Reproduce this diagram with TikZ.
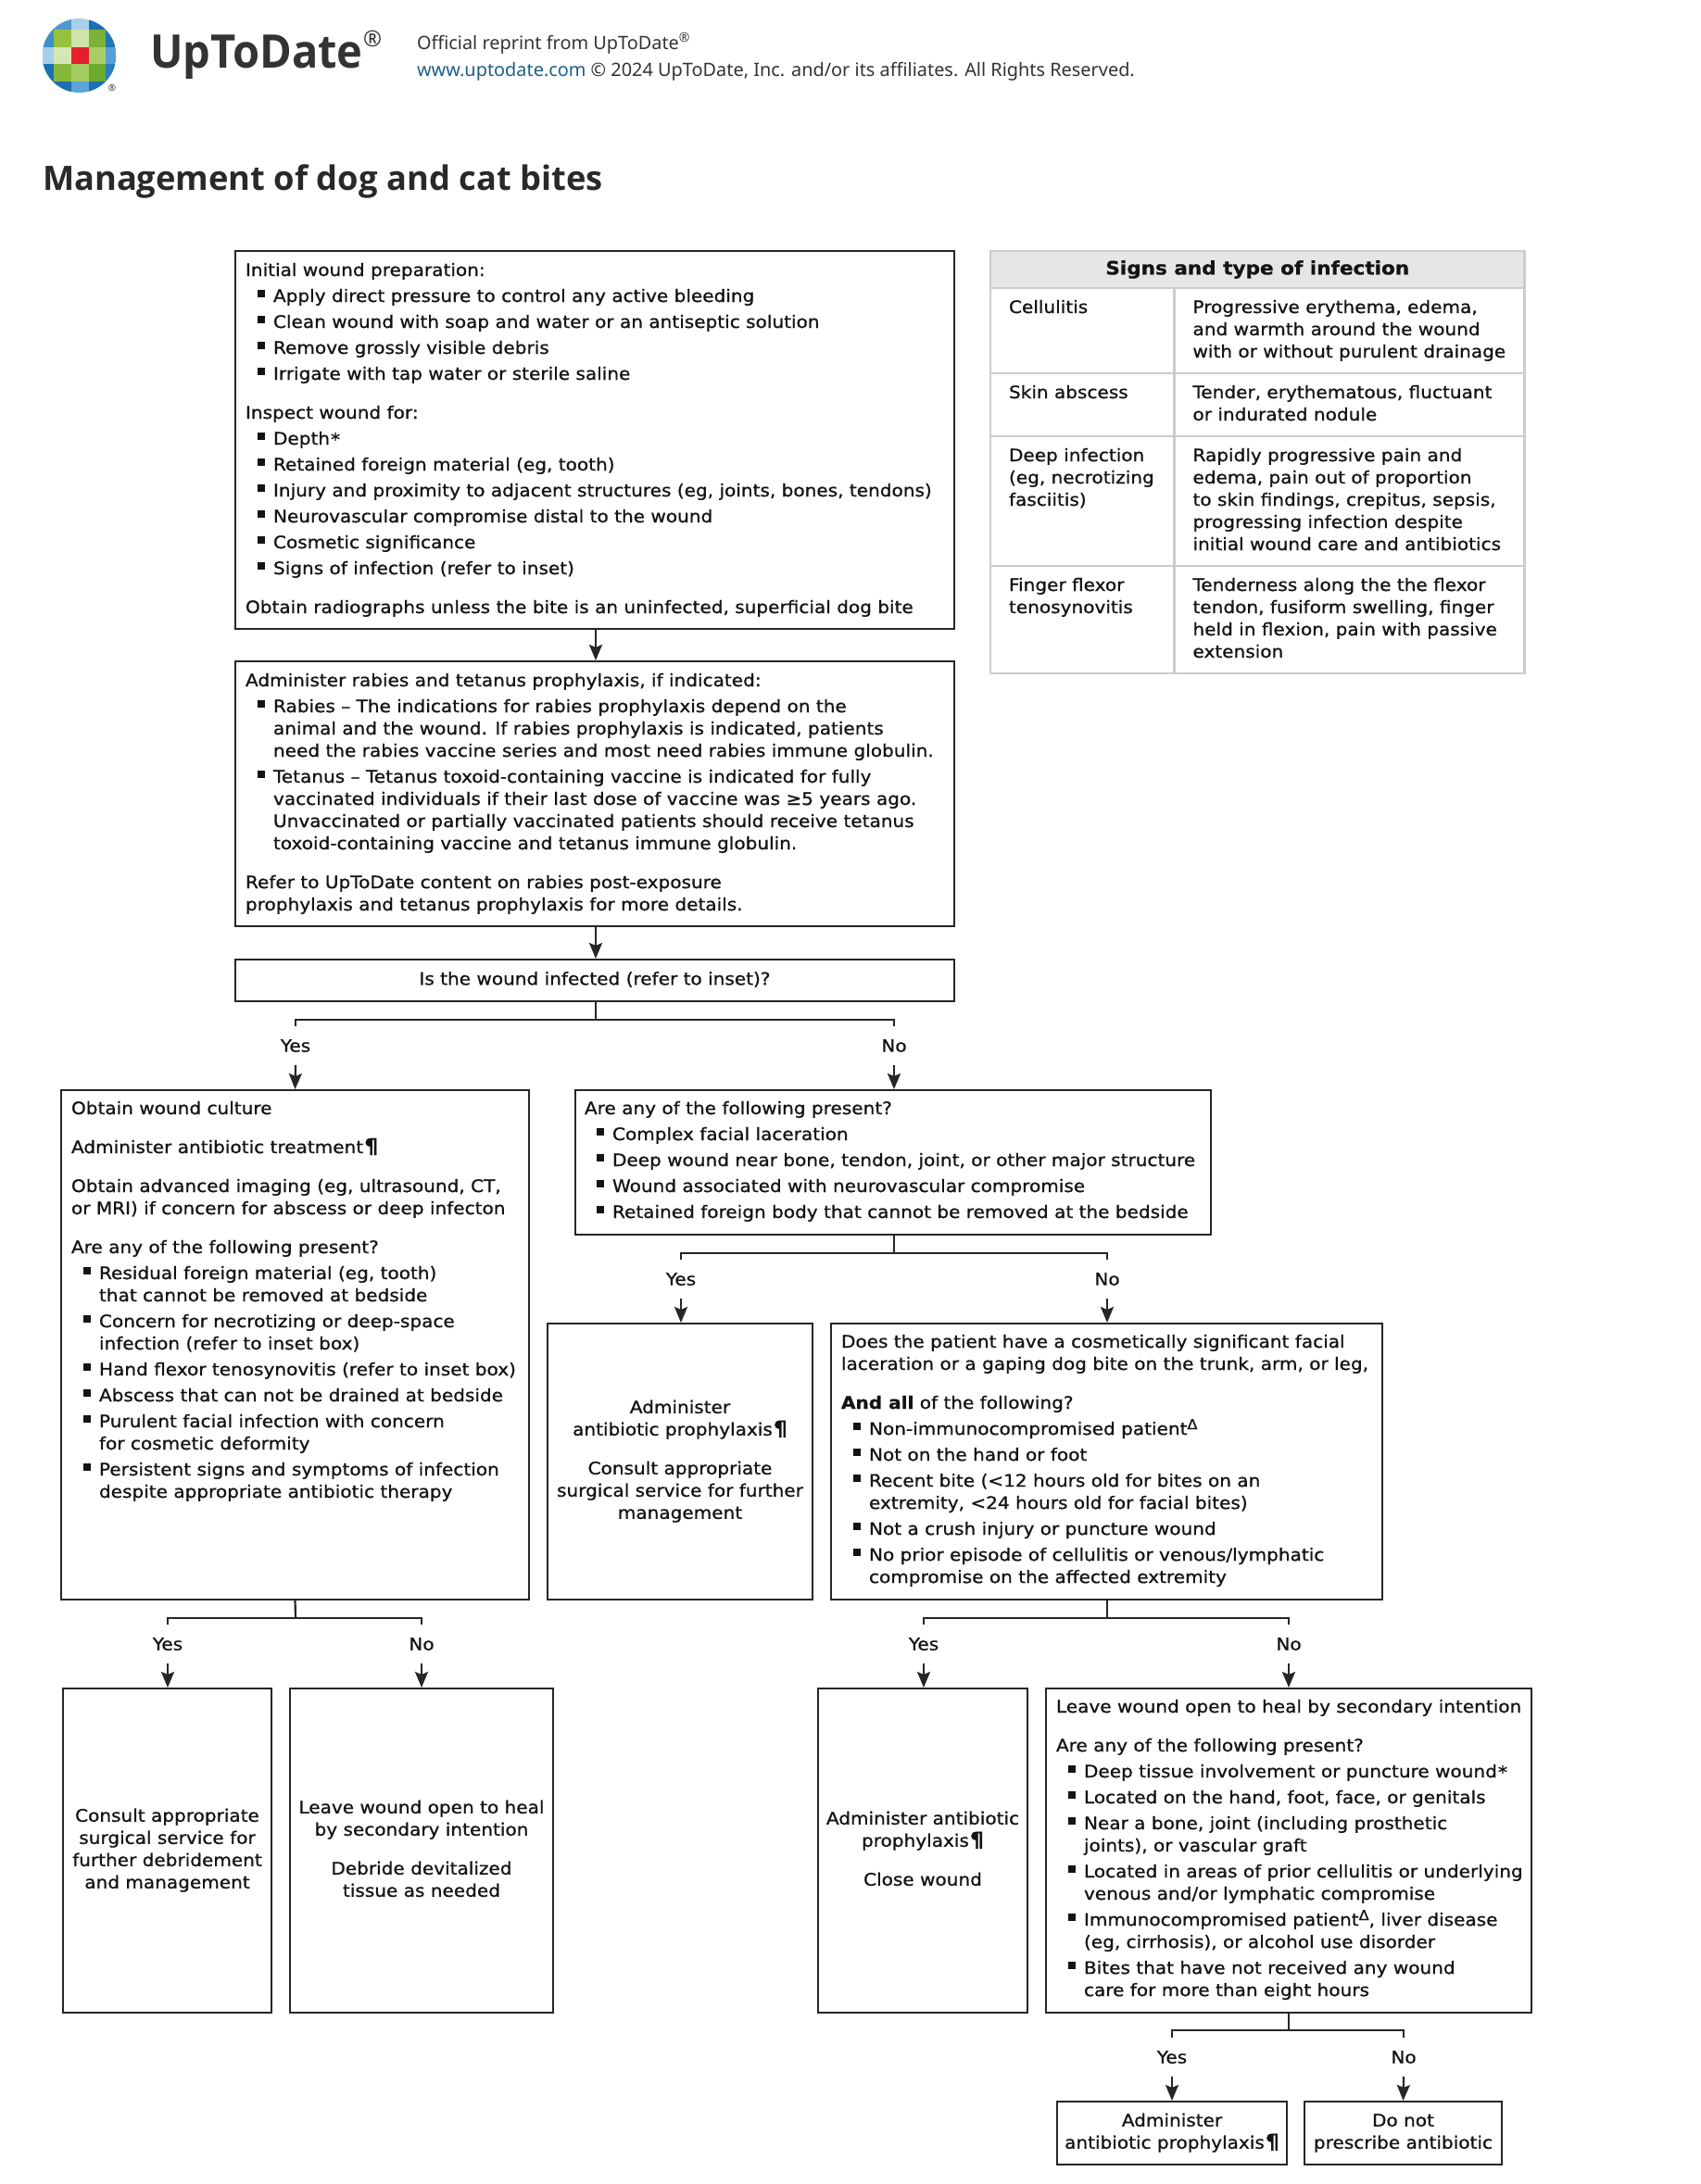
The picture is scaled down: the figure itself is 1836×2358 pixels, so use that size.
\documentclass[tikz,border=0pt]{standalone}
\usepackage{fontspec}
\usepackage{array}
\usetikzlibrary{arrows.meta}
\setmainfont[FakeStretch=1.078,FakeBold=0.9]{DejaVu Sans}
\newfontfamily\hdrfont{Noto Sans}
\newfontfamily\hdrbold{Open Sans}
\newfontfamily\wordfont[FakeStretch=0.94]{Open Sans}
\definecolor{ink}{HTML}{141414}
\definecolor{rule}{HTML}{262626}
\definecolor{tline}{HTML}{CCCCCC}
\definecolor{thead}{HTML}{E6E6E6}
\definecolor{hdrgray}{HTML}{333333}
\definecolor{linkblue}{HTML}{1F5F85}
\newcommand\bodysize{\fontsize{18.6}{24}\selectfont}
\tikzset{
  bx/.style={draw=rule,line width=2.4pt,inner ysep=0pt,inner xsep=0pt,outer sep=0pt,anchor=north west,text=ink,font=\bodysize},
  tcell/.style={draw=tline,line width=2.2pt},
  lab/.style={minimum height=42pt,inner sep=0pt,outer sep=0pt,text=ink,font=\bodysize},
  ln/.style={draw=rule,line width=2.2pt},
  arr/.style={ln,shorten >=1pt,-{Stealth[length=17pt,width=14pt,inset=3pt]}},
  hdr/.style={inner sep=0pt,outer sep=0pt,anchor=base west},
}
% left-aligned box: [opts]{name}{x1}{y1}{x2}{y2}{pad}{first baseline}{lines}
\newcommand\lbox[9][]{%
  \pgfmathsetmacro\bW{#5-#3-2*#7}\pgfmathsetmacro\bH{#6-#4}%
  \node[bx,inner xsep=#7pt,#1] (#2) at (#3,#4) {\parbox[c][\bH pt][t]{\bW pt}{\makebox[\bW pt][l]{\begin{tabular}[t]{@{}l@{}}\rule{0pt}{#8pt}#9\end{tabular}}}};%
}
\newcommand\ccbox[6]{%
  \pgfmathsetmacro\bW{#4-#2}\pgfmathsetmacro\bH{#5-#3}%
  \node[bx] (#1) at (#2,#3) {\parbox[c][\bH pt][c]{\bW pt}{\makebox[\bW pt][c]{\begin{tabular}{@{}c@{}}#6\end{tabular}}}};%
}
\newcommand\bul{\makebox[30pt][l]{\hspace{13pt}\raisebox{5pt}{\rule{8pt}{8pt}}}}
\newcommand\indt{\hspace*{30pt}}
\newcommand\pil{\hspace{1pt}{\fontsize{22}{24}\selectfont\textbf{¶}}}
\newcommand\dlt{\raisebox{6pt}{\fontsize{15}{20}\selectfont Δ}}
\newcommand\astr{\hspace{1pt}\raisebox{-1pt}{*}}
\begin{document}
\begin{tikzpicture}[x=1pt,y=-1pt]
\useasboundingbox (0,0) rectangle (1836,2358);
\fill[white] (0,0) rectangle (1836,2358);
% logo
\begin{scope}
\clip (85.5,60) circle (40);
\foreach \xa/\xb/\ya/\yb/\cc in {
 46/57.7/20/32.3/1F78B4, 57.7/76.7/20/32.3/4E9AD0, 76.7/95.7/20/32.3/A9CFEA, 95.7/114/20/32.3/1C6FB1, 114/125/20/32.3/1F78B4,
 46/57.7/32.3/50.7/3F8FC9, 57.7/76.7/32.3/50.7/96C13D, 76.7/95.7/32.3/50.7/CFE3AB, 95.7/114/32.3/50.7/7CB13A, 114/125/32.3/50.7/1F78B4,
 46/57.7/50.7/69.3/A8D0EA, 57.7/76.7/50.7/69.3/D6E6B5, 76.7/95.7/50.7/69.3/E3202E, 95.7/114/50.7/69.3/A9CD68, 114/125/50.7/69.3/55A0D5,
 46/57.7/69.3/88/1A72B2, 57.7/76.7/69.3/88/86B93A, 76.7/95.7/69.3/88/A3CB5F, 95.7/114/69.3/88/6DA82F, 114/125/69.3/88/2A80BF,
 46/57.7/88/100/2A7FC0, 57.7/76.7/88/100/1C6FB1, 76.7/95.7/88/100/5BA3D8, 95.7/114/88/100/1C6FB1, 114/125/88/100/2A7FC0}
 {\definecolor{cellc}{HTML}{\cc}\fill[cellc] (\xa,\ya) rectangle (\xb,\yb);}
\end{scope}
\node[inner sep=0pt,text=hdrgray,font=\hdrfont\fontsize{10}{12}\selectfont] (logoreg) at (121,95) {®};
\node[hdr,text=hdrgray,font=\wordfont\bfseries\fontsize{50}{56}\selectfont] (wordmark) at (162,74) {UpToDate};
\node[inner sep=0pt,text=hdrgray,font=\hdrfont\fontsize{24}{30}\selectfont] (wordreg) at (402,42) {®};
\node[hdr,text=hdrgray,font=\hdrfont\fontsize{19.9}{24}\selectfont] (official) at (450,53) {Official reprint from UpToDate\textsuperscript{®}};
\node[hdr,text=hdrgray,font=\hdrfont\fontsize{19.9}{24}\selectfont] (copyr) at (450,82) {\textcolor{linkblue}{www.uptodate.com} © 2024 UpToDate, Inc. and/or its affiliates. All Rights Reserved.};
\node[hdr,text=hdrgray!80!black,font=\hdrbold\bfseries\fontsize{36.3}{40}\selectfont] (title) at (46,205) {Management of dog and cat bites};
% flowchart boxes
\lbox{b1}{254}{271}{1030}{679}{11}{27}{Initial wound preparation:\\[4pt]
\bul Apply direct pressure to control any active bleeding\\[4pt]
\bul Clean wound with soap and water or an antiseptic solution\\[4pt]
\bul Remove grossly visible debris\\[4pt]
\bul Irrigate with tap water or sterile saline\\[18pt]
Inspect wound for:\\[4pt]
\bul Depth\astr\\[4pt]
\bul Retained foreign material (eg, tooth)\\[4pt]
\bul Injury and proximity to adjacent structures (eg, joints, bones, tendons)\\[4pt]
\bul Neurovascular compromise distal to the wound\\[4pt]
\bul Cosmetic significance\\[4pt]
\bul Signs of infection (refer to inset)\\[18pt]
Obtain radiographs unless the bite is an uninfected, superficial dog bite}
\lbox{b2}{254}{714}{1030}{1000}{11}{27}{Administer rabies and tetanus prophylaxis, if indicated:\\[4pt]
\bul Rabies -- The indications for rabies prophylaxis depend on the\\
\indt animal and the wound. If rabies prophylaxis is indicated, patients\\
\indt need the rabies vaccine series and most need rabies immune globulin.\\[4pt]
\bul Tetanus -- Tetanus toxoid-containing vaccine is indicated for fully\\
\indt vaccinated individuals if their last dose of vaccine was ≥5 years ago.\\
\indt Unvaccinated or partially vaccinated patients should receive tetanus\\
\indt toxoid-containing vaccine and tetanus immune globulin.\\[18pt]
Refer to UpToDate content on rabies post-exposure\\
prophylaxis and tetanus prophylaxis for more details.}
\ccbox{q1}{254}{1036}{1030}{1081}{Is the wound infected (refer to inset)?}
\lbox{cul}{66}{1177}{571}{1727}{11}{26}{Obtain wound culture\\[18pt]
Administer antibiotic treatment\pil\\[18pt]
Obtain advanced imaging (eg, ultrasound, CT,\\
or MRI) if concern for abscess or deep infecton\\[18pt]
Are any of the following present?\\[4pt]
\bul Residual foreign material (eg, tooth)\\
\indt that cannot be removed at bedside\\[4pt]
\bul Concern for necrotizing or deep-space\\
\indt infection (refer to inset box)\\[4pt]
\bul Hand flexor tenosynovitis (refer to inset box)\\[4pt]
\bul Abscess that can not be drained at bedside\\[4pt]
\bul Purulent facial infection with concern\\
\indt for cosmetic deformity\\[4pt]
\bul Persistent signs and symptoms of infection\\
\indt despite appropriate antibiotic therapy}
\lbox{q2}{621}{1177}{1307}{1333}{10}{26}{Are any of the following present?\\[4pt]
\bul Complex facial laceration\\[4pt]
\bul Deep wound near bone, tendon, joint, or other major structure\\[4pt]
\bul Wound associated with neurovascular compromise\\[4pt]
\bul Retained foreign body that cannot be removed at the bedside}
\ccbox{proph}{591}{1429}{877}{1727}{Administer\\
antibiotic prophylaxis\pil\\[18pt]
Consult appropriate\\
surgical service for further\\
management}
\lbox{q3}{897}{1429}{1492}{1727}{11}{26}{Does the patient have a cosmetically significant facial\\
laceration or a gaping dog bite on the trunk, arm, or leg,\\[18pt]
\textbf{And all} of the following?\\[4pt]
\bul Non-immunocompromised patient\dlt\\[4pt]
\bul Not on the hand or foot\\[4pt]
\bul Recent bite (<12 hours old for bites on an\\
\indt extremity, <24 hours old for facial bites)\\[4pt]
\bul Not a crush injury or puncture wound\\[4pt]
\bul No prior episode of cellulitis or venous/lymphatic\\
\indt compromise on the affected extremity}
\ccbox{consult}{68}{1823}{293}{2173}{Consult appropriate\\
surgical service for\\
further debridement\\
and management}
\ccbox{leave}{313}{1823}{597}{2173}{Leave wound open to heal\\
by secondary intention\\[18pt]
Debride devitalized\\
tissue as needed}
\ccbox{close}{883}{1823}{1109}{2173}{Administer antibiotic\\
prophylaxis\pil\\[18pt]
Close wound}
\lbox{q4}{1129}{1823}{1653}{2173}{11}{26}{Leave wound open to heal by secondary intention\\[18pt]
Are any of the following present?\\[4pt]
\bul Deep tissue involvement or puncture wound\astr\\[4pt]
\bul Located on the hand, foot, face, or genitals\\[4pt]
\bul Near a bone, joint (including prosthetic\\
\indt joints), or vascular graft\\[4pt]
\bul Located in areas of prior cellulitis or underlying\\
\indt venous and/or lymphatic compromise\\[4pt]
\bul Immunocompromised patient\dlt, liver disease\\
\indt (eg, cirrhosis), or alcohol use disorder\\[4pt]
\bul Bites that have not received any wound\\
\indt care for more than eight hours}
\ccbox{admin}{1141}{2269}{1389}{2337}{Administer\\ antibiotic prophylaxis\pil}
\ccbox{donot}{1408}{2269}{1621}{2337}{Do not\\ prescribe antibiotic}
% connectors
\draw[arr] ([xshift=1pt]b1.south) -- ([xshift=1pt]b2.north);
\draw[arr] ([xshift=1pt]b2.south) -- ([xshift=1pt]q1.north);
\coordinate (j1) at (643,1101);
\node[lab] (y1) at (319,1129) {Yes};
\node[lab] (n1) at (965,1129) {No};
\draw[ln] ([xshift=1pt]q1.south) -- (j1);
\draw[ln] (y1.north) |- (j1);
\draw[ln] (n1.north) |- (j1);
\draw[arr] (y1.south) -- (cul.north);
\draw[arr] (n1.south) -- (n1.south |- q2.north);
\coordinate (j2) at (965,1353);
\node[lab] (y2) at (735,1381) {Yes};
\node[lab] (n2) at (1195,1381) {No};
\draw[ln] (j2 |- q2.south) -- (j2);
\draw[ln] (y2.north) |- (j2);
\draw[ln] (n2.north) |- (j2);
\draw[arr] (y2.south) -- (y2.south |- proph.north);
\draw[arr] (n2.south) -- (n2.south |- q3.north);
\coordinate (j3) at (319,1747);
\node[lab] (y3) at (181,1775) {Yes};
\node[lab] (n3) at (455,1775) {No};
\draw[ln] (cul.south) -- (j3);
\draw[ln] (y3.north) |- (j3);
\draw[ln] (n3.north) |- (j3);
\draw[arr] (y3.south) -- (y3.south |- consult.north);
\draw[arr] (n3.south) -- (n3.south |- leave.north);
\coordinate (j4) at (1195,1747);
\node[lab] (y4) at (997,1775) {Yes};
\node[lab] (n4) at (1391,1775) {No};
\draw[ln] (q3.south -| n2.south) -- (j4);
\draw[ln] (y4.north) |- (j4);
\draw[ln] (n4.north) |- (j4);
\draw[arr] (y4.south) -- (y4.south |- close.north);
\draw[arr] (n4.south) -- (q4.north);
\coordinate (j5) at (1391,2192);
\node[lab] (y5) at (1265,2221) {Yes};
\node[lab] (n5) at (1515,2221) {No};
\draw[ln] (q4.south) -- (j5);
\draw[ln] (y5.north) |- (j5);
\draw[ln] (n5.north) |- (j5);
\draw[arr] (y5.south) -- (admin.north);
\draw[arr] (n5.south) -- (donot.north);
% inset table
\node[bx,tcell,fill=thead,inner sep=0pt] (thd) at (1069,271) {\parbox[c][40pt][c]{576.5pt}{\centering\fontsize{20}{24}\selectfont\textbf{Signs and type of infection}}};
\lbox[tcell]{c1a}{1069}{311}{1267.5}{403}{20}{27}{Cellulitis}
\lbox[tcell]{c1b}{1267.5}{311}{1645.5}{403}{20}{27}{Progressive erythema, edema,\\ and warmth around the wound\\ with or without purulent drainage}
\lbox[tcell]{c2a}{1069}{403}{1267.5}{471}{20}{27}{Skin abscess}
\lbox[tcell]{c2b}{1267.5}{403}{1645.5}{471}{20}{27}{Tender, erythematous, fluctuant\\ or indurated nodule}
\lbox[tcell]{c3a}{1069}{471}{1267.5}{611}{20}{27}{Deep infection\\ (eg, necrotizing\\ fasciitis)}
\lbox[tcell]{c3b}{1267.5}{471}{1645.5}{611}{20}{27}{Rapidly progressive pain and\\ edema, pain out of proportion\\ to skin findings, crepitus, sepsis,\\ progressing infection despite\\ initial wound care and antibiotics}
\lbox[tcell]{c4a}{1069}{611}{1267.5}{727}{20}{27}{Finger flexor\\ tenosynovitis}
\lbox[tcell]{c4b}{1267.5}{611}{1645.5}{727}{20}{27}{Tenderness along the the flexor\\ tendon, fusiform swelling, finger\\ held in flexion, pain with passive\\ extension}
\end{tikzpicture}
\end{document}
